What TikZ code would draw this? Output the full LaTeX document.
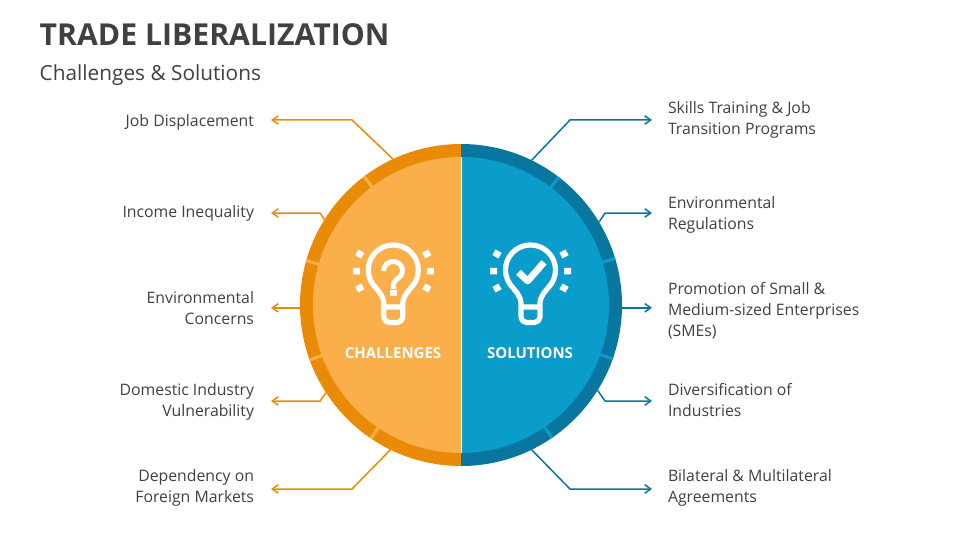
\documentclass[tikz,border=0pt]{standalone}
\usepackage{fontspec}
\setmainfont{Open Sans}
\usetikzlibrary{arrows.meta}
\definecolor{ringorange}{HTML}{EA8B08}
\definecolor{fillorange}{HTML}{FAAF4B}
\definecolor{ringblue}{HTML}{08769E}
\definecolor{fillblue}{HTML}{0A9CCB}
\definecolor{inktext}{HTML}{404040}
\begin{document}
\begin{tikzpicture}
    [x=1pt,y=-1pt,
     pre/.style={-{Straight Barb[length=6pt,width=8.5pt]},line width=1.5pt,line join=miter},
     preo/.style={pre,ringorange},
     preb/.style={pre,ringblue},
     lefttext/.style={anchor=east,align=right,inner sep=0pt,outer xsep=17pt,text=inktext,
       font=\fontsize{15.8}{21}\selectfont},
     righttext/.style={anchor=west,align=left,inner sep=0pt,outer xsep=16pt,text=inktext,
       font=\fontsize{15.8}{21}\selectfont},
     headtext/.style={text=white,inner sep=0pt,font=\fontsize{15}{17}\selectfont\bfseries},
     gap/.style={line width=3pt},
     bulb/.pic={
       \draw [white,line width=5.2pt,line join=round]
         (-9.5,37) -- (-9.5,33) .. controls (-10,25) and (-16,20) .. (-20.5,14.3)
         arc[start angle=145,end angle=395,radius=25]
         .. controls (16,20) and (10,25) .. (9.5,33) -- (9.5,37)
         (-9.5,37) -- (-9.5,47) arc[start angle=180,end angle=90,radius=5.5] -- (4,52.5)
         arc[start angle=90,end angle=0,radius=5.5] -- (9.5,37) -- cycle;
       \draw [white,line width=6.5pt]
         (-40.5,1) -- (-33.5,1) (33.5,1) -- (40.5,1)
         (-36.5,-17.7) -- (-30.5,-14.3) (36.5,-17.7) -- (30.5,-14.3)
         (-36.5,19.7) -- (-30.5,16.3) (36.5,19.7) -- (30.5,16.3);
     }]
    \useasboundingbox (0,0) rectangle (960,540);
    % title
    \node (title) [anchor=west,inner sep=0pt,text=inktext,font=\fontsize{30.2}{36}\selectfont\bfseries] at (39.5,35) {TRADE LIBERALIZATION};
    \node (subtitle) [anchor=west,inner sep=0pt,text=inktext,font=\fontsize{20.8}{24}\selectfont] at (39.5,75.5) {Challenges \& Solutions};
    % circle
    \node (hub) [shape=circle,minimum size=322pt,inner sep=0pt,outer sep=0pt] at (461,305) {};
    \fill [ringorange] (461,144) arc[start angle=270,end angle=90,radius=161] -- cycle;
    \fill [ringblue] (461,144) arc[start angle=270,end angle=450,radius=161] -- cycle;
    \fill [fillorange] (461,157) arc[start angle=270,end angle=90,radius=148] -- cycle;
    \fill [fillblue] (461,157) arc[start angle=270,end angle=450,radius=148] -- cycle;
    \draw [white,line width=0.35pt] (461,157) -- (461,453);
    % ring gaps
    \draw [gap,fillorange] (hub) ++(233:147) -- ++(233:14);
    \draw [gap,fillorange] (hub) ++(196:147) -- ++(196:14);
    \draw [gap,fillorange] (hub) ++(160:147) -- ++(160:14);
    \draw [gap,fillorange] (hub) ++(124:147) -- ++(124:14);
    \draw [gap,fillblue] (hub) ++(-52.6:147) -- ++(-52.6:14);
    \draw [gap,fillblue] (hub) ++(-16.8:147) -- ++(-16.8:14);
    \draw [gap,fillblue] (hub) ++(19.6:147) -- ++(19.6:14);
    \draw [gap,fillblue] (hub) ++(55.6:147) -- ++(55.6:14);
    % icons
    \pic at (393.3,270) {bulb};
    \draw [white,line width=5pt] (383.6,271) arc[start angle=180,end angle=360,radius=9.5]
      .. controls (403,278) and (393.3,278) .. (393.3,286) -- (393.3,289);
    \fill [white] (390,289.5) rectangle (396.6,296);
    \pic at (530.5,270) {bulb};
    \draw [white,line width=6.8pt,line join=round] (518.5,272.3) -- (527.7,281) -- (544,262.3);
    \node (challenges) [headtext] at (393,353.5) {CHALLENGES};
    \node (solutions) [headtext] at (530,353.5) {SOLUTIONS};
    % left labels
    \node (job) [lefttext] at (271,122) {Job Displacement};
    \node (income) [lefttext] at (271,213.5) {Income Inequality};
    \node (env) [lefttext] at (271,308) {Environmental\\Concerns};
    \node (dom) [lefttext] at (271,402) {Domestic Industry\\Vulnerability};
    \node (dep) [lefttext] at (271,488) {Dependency on\\Foreign Markets};
    % right labels
    \node (skills) [righttext] at (652,120) {Skills Training \& Job\\Transition Programs};
    \node (regs) [righttext] at (652,215) {Environmental\\Regulations};
    \node (sme) [righttext] at (652,311) {Promotion of Small \&\\Medium-sized Enterprises\\(SMEs)};
    \node (divers) [righttext] at (652,400) {Diversification of\\Industries};
    \node (bilat) [righttext] at (652,488) {Bilateral \& Multilateral\\Agreements};
    % bends
    \coordinate (jobbend) at (352,120);
    \coordinate (incomebend) at (320,213);
    \coordinate (dombend) at (320,401);
    \coordinate (depbend) at (352,489);
    \coordinate (skillsbend) at (570,120);
    \coordinate (regsbend) at (605,213);
    \coordinate (diversbend) at (605,401);
    \coordinate (bilatbend) at (570,489);
    % connectors
    \draw [preo] (hub.115.8) -- (jobbend) -- (jobbend -| job.east);
    \draw [preo] (hub.148) -- (incomebend) -- (incomebend -| income.east);
    \draw [preo] (hub.181.4) -- (hub.181.4 -| env.east);
    \draw [preo] (hub.213.6) -- (dombend) -- (dombend -| dom.east);
    \draw [preo] (hub.244) -- (depbend) -- (depbend -| dep.east);
    \draw [preb] (hub.64.2) -- (skillsbend) -- (skillsbend -| skills.west);
    \draw [preb] (hub.31.7) -- (regsbend) -- (regsbend -| regs.west);
    \draw [preb] (hub.-1.4) -- (hub.-1.4 -| sme.west);
    \draw [preb] (hub.-32.9) -- (diversbend) -- (diversbend -| divers.west);
    \draw [preb] (hub.-64) -- (bilatbend) -- (bilatbend -| bilat.west);
\end{tikzpicture}
\end{document}
